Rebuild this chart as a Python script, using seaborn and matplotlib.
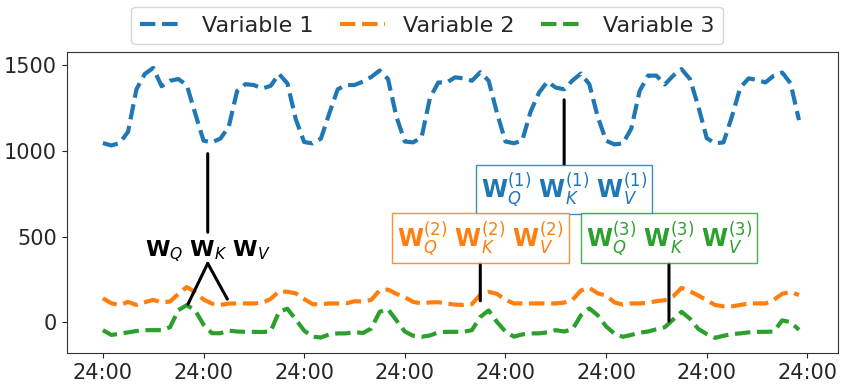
import matplotlib
matplotlib.use("Agg")
import matplotlib.pyplot as plt
import seaborn as sns

# hourly samples every 2 hours over one week
hours = list(range(0, 168, 2))

var1 = [1046, 1032, 1046, 1112, 1360, 1450, 1485, 1378, 1410, 1420,
        1385, 1220, 1060, 1050, 1072, 1140, 1350, 1390, 1385, 1365,
        1380, 1450, 1395, 1185, 1052, 1044, 1072, 1220, 1360, 1385,
        1385, 1405, 1432, 1470, 1420, 1200, 1055, 1050, 1080, 1310,
        1400, 1400, 1430, 1424, 1410, 1460, 1410, 1220, 1055, 1045,
        1060, 1230, 1340, 1405, 1370, 1360, 1412, 1452, 1390, 1200,
        1060, 1038, 1044, 1130, 1350, 1440, 1440, 1388, 1440, 1478,
        1420, 1260, 1075, 1044, 1050, 1200, 1370, 1424, 1415, 1400,
        1440, 1458, 1395, 1180]

var2 = [139, 110, 100, 118, 100, 116, 130, 115, 120, 165,
        205, 175, 132, 108, 100, 108, 109, 109, 109, 112,
        135, 180, 177, 168, 135, 105, 104, 109, 109, 109,
        122, 120, 130, 185, 190, 165, 145, 118, 109, 115,
        116, 109, 102, 100, 105, 160, 177, 165, 130, 109,
        109, 109, 109, 109, 109, 114, 130, 185, 200, 168,
        155, 115, 102, 109, 109, 113, 122, 128, 150, 200,
        180, 155, 128, 100, 92, 92, 100, 109, 109, 109,
        130, 165, 177, 158]

var3 = [-47, -75, -68, -60, -52, -47, -47, -47, -30, 70,
        99, 68, -15, -65, -65, -50, -55, -57, -57, -58,
        -55, 60, 78, 15, -50, -85, -90, -72, -66, -66,
        -58, -64, -37, 60, 75, 10, -55, -80, -86, -78,
        -60, -57, -57, -57, -47, 30, 68, 0, -55, -85,
        -72, -66, -66, -60, -47, -55, -42, 40, 80, 40,
        -25, -68, -86, -75, -62, -55, -42, -30, 15, 60,
        20, -40, -70, -92, -80, -70, -66, -60, -57, -57,
        -55, 10, 0, -45]

series_names = ['Variable 1', 'Variable 2', 'Variable 3']
tick_hours = list(range(0, 169, 24))
tick_labels = ['24:00'] * len(tick_hours)

sns.set_style('ticks')
plt.rcParams['font.size'] = 15
colors = sns.color_palette('tab10', 3)

fig = plt.figure(figsize=(8.46, 3.91), dpi=100)
ax = fig.add_axes([0.079, 0.097, 0.912, 0.77])

for vals, name, c in zip([var1, var2, var3], series_names, colors):
    sns.lineplot(x=hours, y=vals, color=c, linestyle='--', lw=3, label=name, ax=ax)

ax.set_xticks(tick_hours)
ax.set_xticklabels(tick_labels)
ax.set_yticks([0, 500, 1000, 1500])
ax.set_xlim(-8.6, 175.4)
ax.set_ylim(-181, 1578)
for s in ax.spines.values():
    s.set_color('#333333')

handles, labels = ax.get_legend_handles_labels()
ax.get_legend().remove()
fig.legend(handles, labels, loc='upper center', bbox_to_anchor=(0.505, 0.983),
           ncol=3, borderaxespad=0, fontsize=16, columnspacing=1.2)

# shared projection weights (black) and per-variable ones (boxed)
line_kw = dict(arrowstyle='-', color='k', lw=2.2)
ax.annotate(r'$\mathbf{W}_Q$ $\mathbf{W}_K$ $\mathbf{W}_V$', xy=(25, 1000), xytext=(25, 415),
            ha='center', va='center', fontsize=16, color='k', arrowprops=line_kw)
ax.annotate('', xy=(20, 90), xytext=(25, 343), arrowprops=dict(line_kw, shrinkA=0))
ax.annotate('', xy=(30, 120), xytext=(25, 343), arrowprops=dict(line_kw, shrinkA=0))

boxes = [(r'$\mathbf{W}_Q^{(1)}$ $\mathbf{W}_K^{(1)}$ $\mathbf{W}_V^{(1)}$', (110, 1315), (110, 773), colors[0]),
         (r'$\mathbf{W}_Q^{(2)}$ $\mathbf{W}_K^{(2)}$ $\mathbf{W}_V^{(2)}$', (90, 108), (90, 491), colors[1]),
         (r'$\mathbf{W}_Q^{(3)}$ $\mathbf{W}_K^{(3)}$ $\mathbf{W}_V^{(3)}$', (135, -10), (135, 491), colors[2])]
for txt, xy, xyt, c in boxes:
    ax.annotate(txt, xy=xy, xytext=xyt, ha='center', va='center', fontsize=17, color=c,
                bbox=dict(boxstyle='square,pad=0.22', fc='white', ec=c, alpha=0.85, lw=1),
                arrowprops=dict(line_kw, shrinkA=0))

fig.savefig('out.png', dpi=100)
